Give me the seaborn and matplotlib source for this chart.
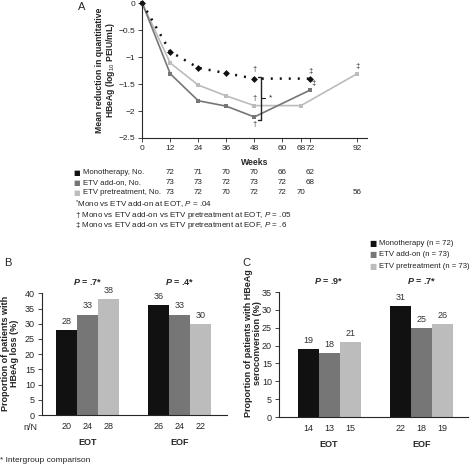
import numpy as np
import pandas as pd
import seaborn as sns
import matplotlib.pyplot as plt

# ---- panel A: mean reduction in qHBeAg over time
mono_weeks = [0, 12, 24, 36, 48, 72]
mono_red = [0, -0.9, -1.2, -1.3, -1.4, -1.4]
addon_weeks = [0, 12, 24, 36, 48, 72]
addon_red = [0, -1.31, -1.81, -1.91, -2.11, -1.61]
pre_weeks = [0, 12, 24, 36, 48, 68, 92]
pre_red = [0, -1.11, -1.52, -1.72, -1.9, -1.9, -1.31]
week_ticks = [0, 12, 24, 36, 48, 60, 68, 72, 92]

# patients at risk
mono_n_weeks = [12, 24, 36, 48, 60, 72]
mono_n = [72, 71, 70, 70, 66, 62]
addon_n_weeks = [12, 24, 36, 48, 60, 72]
addon_n = [73, 73, 72, 73, 72, 68]
pre_n_weeks = [12, 24, 36, 48, 60, 68, 92]
pre_n = [73, 72, 70, 72, 72, 70, 56]

# ---- panels B and C
groups = ["Monotherapy", "ETV add-on", "ETV pretreatment"]
group_size = [72, 73, 73]
timepoints = ["EOT", "EOF"]
loss_eot = [28, 33, 38]
loss_eof = [36, 33, 30]
loss_n_eot = [20, 24, 28]
loss_n_eof = [26, 24, 22]
loss_p = [".7*", ".4*"]
sero_eot = [19, 18, 21]
sero_eof = [31, 25, 26]
sero_n_eot = [14, 13, 15]
sero_n_eof = [22, 18, 19]
sero_p = [".9*", ".7*"]

colors = ["#111111", "#767676", "#bcbcbc"]

sns.set_style("ticks")
plt.rcParams["font.family"] = ["Liberation Sans", "DejaVu Sans"]
plt.rcParams["mathtext.fontset"] = "custom"
plt.rcParams["mathtext.rm"] = "Liberation Sans"
plt.rcParams["mathtext.it"] = "Liberation Sans:italic"
plt.rcParams["mathtext.bf"] = "Liberation Sans:bold"
try:
    plt.rcParams["mathtext.bfit"] = "Liberation Sans:italic:bold"
except KeyError:
    pass
plt.rcParams["axes.linewidth"] = 0.8

W, H = 474, 467
fig = plt.figure(figsize=(W / 100, H / 100), dpi=100)
axA = fig.add_axes([0.300, 0.7045, 0.475, 0.289])
axB = fig.add_axes([0.0886, 0.111, 0.390, 0.261])
axC = fig.add_axes([0.5886, 0.107, 0.399, 0.2677])

# ---------------- A
sns.lineplot(x=pre_weeks, y=pre_red, ax=axA, color=colors[2], lw=1.2,
             marker="s", markersize=3.5, markeredgewidth=0, clip_on=False)
sns.lineplot(x=addon_weeks, y=addon_red, ax=axA, color=colors[1], lw=1.2,
             marker="s", markersize=3.5, markeredgewidth=0, clip_on=False)
sns.lineplot(x=mono_weeks, y=mono_red, ax=axA, color=colors[0], lw=1.8,
             linestyle=(0, (0.8, 2.8)), marker="D", markersize=3.5,
             markeredgewidth=0, clip_on=False)

axA.set_xlim(0, 96.4)
axA.set_ylim(-2.5, 0)
axA.set_xticks(week_ticks)
axA.set_xticklabels([str(w) for w in week_ticks])
axA.set_yticks([0, -0.5, -1, -1.5, -2, -2.5])
axA.set_yticklabels(["0", "\u22120.5", "\u22121", "\u22121.5", "\u22122", "\u22122.5"])
axA.tick_params(labelsize=6, length=3, width=0.6, pad=2)
sns.despine(ax=axA)
axA.set_xlabel("")
axA.set_ylabel("")

# significance marks
sym_kw = dict(ha="center", va="center", fontsize=5.5, color="#333333")
axA.text(48, -1.23, "\u2020", **sym_kw)
axA.text(48, -1.77, "\u2020", **sym_kw)
axA.text(48, -2.25, "\u2020", **sym_kw)
axA.text(72, -1.27, "\u2021", **sym_kw)
axA.text(73.4, -1.49, "\u2021", **sym_kw)
axA.text(92.4, -1.18, "\u2021", **sym_kw)
axA.plot([49.7, 50.9, 50.9, 49.7], [-1.37, -1.37, -2.16, -2.16], color="#222222", lw=1)
axA.plot([50.9, 52.7], [-1.76, -1.76], color="#222222", lw=0.8)
axA.text(55, -1.76, "*", ha="center", va="center", fontsize=6, color="#222222")

fig.text(106 / W, 1 - 70 / H,
         "Mean reduction in quantitative\nHBeAg (log$_{10}$ PEIU/mL)",
         rotation=90, ha="center", va="center", ma="center",
         fontsize=6.2, fontweight="bold", color="#222222", linespacing=1.1)
fig.text(82 / W, 1 - 7 / H, "A", fontsize=8, ha="center", va="center")

# at-risk table
trans = axA.get_xaxis_transform()
axA.text(48, -0.185, "Weeks", transform=trans, ha="center", va="center",
         fontsize=6.2, fontweight="bold")
rows = [("Monotherapy, No.", mono_n_weeks, mono_n, colors[0]),
        ("ETV add-on, No.", addon_n_weeks, addon_n, colors[1]),
        ("ETV pretreatment, No.", pre_n_weeks, pre_n, colors[2])]
for i, (lab, wks, ns, col) in enumerate(rows):
    y_px = 173 + i * 9.8
    fig.text(77 / W, 1 - y_px / H, "\u25a0", color=col, fontsize=5,
             ha="center", va="center", family="DejaVu Sans")
    fig.text(83 / W, 1 - y_px / H, lab, fontsize=5.6, ha="left", va="center",
             color="#222222")
    for wk, n in zip(wks, ns):
        axA.text(wk, -(y_px - 138) / 135, str(n), transform=trans,
                 ha="center", va="center", fontsize=5.8, color="#222222")

notes = [r"$^{*}$Mono vs ETV add-on at EOT, $P$ = .04",
         "\u2020 Mono vs ETV add-on vs ETV pretreatment at EOT, $P$ = .05",
         "\u2021 Mono vs ETV add-on vs ETV pretreatment at EOF, $P$ = .6"]
for i, t in enumerate(notes):
    fig.text(75 / W, 1 - (205 + i * 10.3) / H, t, fontsize=5.8,
             ha="left", va="center", color="#222222")


# ---------------- B and C
def bar_panel(ax, eot, eof, n_eot, n_eof, pvals, ymax, xlim):
    df = pd.DataFrame({
        "time": ["EOT"] * 3 + ["EOF"] * 3,
        "group": groups * 2,
        "pct": eot + eof,
    })
    sns.barplot(data=df, x="time", y="pct", hue="group", order=timepoints,
                hue_order=groups, palette=colors, width=0.68, gap=0,
                saturation=1, errorbar=None, legend=False, ax=ax,
                linewidth=0)
    ns = {"EOT": n_eot, "EOF": n_eof}
    centers, labels = [], []
    for h, cont in enumerate(ax.containers):
        ax.bar_label(cont, padding=3, fontsize=6.5, color="#333333")
        for j, bar in enumerate(cont):
            centers.append(bar.get_x() + bar.get_width() / 2)
            labels.append(str(ns[timepoints[j]][h]))
    order = np.argsort(centers)
    ax.set_xticks([centers[k] for k in order])
    ax.set_xticklabels([labels[k] for k in order])
    ax.tick_params(axis="x", length=0, pad=5, labelsize=6.5)
    ax.tick_params(axis="y", length=3, width=0.6, labelsize=6.5, pad=2)
    ax.set_ylim(0, ymax)
    ax.set_yticks(np.arange(0, ymax + 1, 5))
    ax.set_xlim(*xlim)
    ax.set_xlabel("")
    ax.set_ylabel("")
    sns.despine(ax=ax)
    for j, tp in enumerate(timepoints):
        ax.annotate(tp, xy=(j, 0), xycoords=("data", "axes fraction"),
                    xytext=(0, -19.5), textcoords="offset points",
                    ha="center", va="center", fontsize=6.5, fontweight="bold")
        ax.annotate(r"$\mathbfit{P}$ = " + pvals[j], xy=(j, 1),
                    xycoords=("data", "axes fraction"), xytext=(0, 8),
                    textcoords="offset points", ha="center", va="center",
                    fontsize=6.5, fontweight="bold")


bar_panel(axB, loss_eot, loss_eof, loss_n_eot, loss_n_eof, loss_p, 40,
          (-0.49, 1.51))
bar_panel(axC, sero_eot, sero_eof, sero_n_eot, sero_n_eof, sero_p, 35,
          (-0.54, 1.5))

fig.text(30 / W, 1 - 427 / H, "n/N", fontsize=6.5, ha="center", va="center")
fig.text(10 / W, 1 - 353 / H, "Proportion of patients with\nHBeAg loss (%)",
         rotation=90, ha="center", va="center", ma="center", fontsize=6.5,
         fontweight="bold", color="#222222", linespacing=1.1)
fig.text(253 / W, 1 - 343 / H,
         "Proportion of patients with HBeAg\nseroconversion (%)",
         rotation=90, ha="center", va="center", ma="center", fontsize=6.5,
         fontweight="bold", color="#222222", linespacing=1.1)
fig.text(8 / W, 1 - 263 / H, "B", fontsize=8, ha="center", va="center")
fig.text(246 / W, 1 - 263 / H, "C", fontsize=8, ha="center", va="center")
fig.text(0, 1 - 461 / H, "* Intergroup comparison", fontsize=6, ha="left",
         va="center", color="#222222")

# legend for B/C
for i, (g, n) in enumerate(zip(groups, group_size)):
    y_px = 243 + i * 11.5
    fig.text(373 / W, 1 - y_px / H, "\u25a0", color=colors[i], fontsize=5.5,
             ha="center", va="center", family="DejaVu Sans")
    fig.text(379 / W, 1 - y_px / H, f"{g} (n = {n})", fontsize=5.6,
             ha="left", va="center", color="#222222")

fig.savefig("out.png", dpi=100)
